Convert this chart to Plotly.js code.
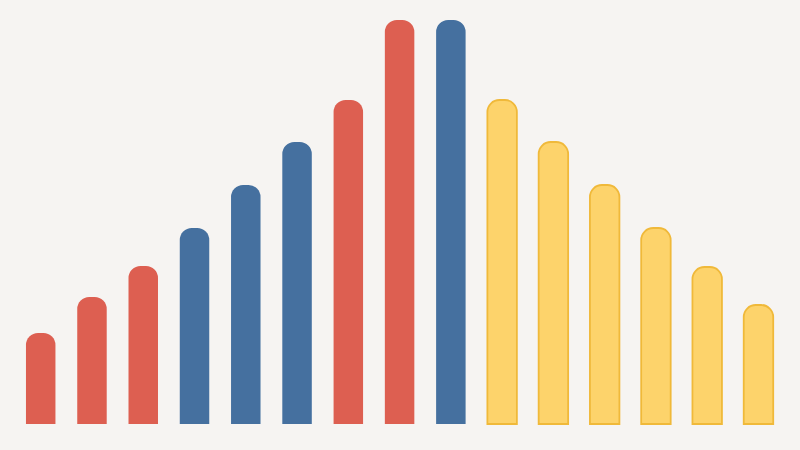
<!DOCTYPE html>
<html>
<head>
<meta charset="utf-8">
<script src="https://cdn.plot.ly/plotly-3.0.1.min.js"></script>
<style>
  html, body { margin: 0; padding: 0; background: #f6f4f2; }
  #chart { width: 800px; height: 450px; }
</style>
</head>
<body>
<div id="chart"></div>
<script>
// Data (arbitrary units, bar heights)
const categories = [1, 2, 3, 4, 5, 6, 7, 8, 9, 10, 11, 12, 13, 14, 15];
const values = [91, 127, 158, 196, 239, 282, 324, 404, 404, 324, 282, 239, 196, 157, 119];
const groups = ['red', 'red', 'red', 'blue', 'blue', 'blue', 'red', 'red', 'blue',
                'yellow', 'yellow', 'yellow', 'yellow', 'yellow', 'yellow'];

const fillColors = { red: '#dd5f51', blue: '#45709f', yellow: '#fdd36b' };
const lineColors = { red: '#dd5f51', blue: '#45709f', yellow: '#f0b93a' };
const lineWidths = { red: 0, blue: 0, yellow: 1.8 };

const trace = {
  type: 'bar',
  x: categories,
  y: values,
  width: 0.575,
  marker: {
    color: groups.map(g => fillColors[g]),
    line: {
      color: groups.map(g => lineColors[g]),
      width: groups.map(g => lineWidths[g])
    },
    cornerradius: 12
  },
  hoverinfo: 'skip'
};

const layout = {
  width: 800,
  height: 450,
  margin: { l: 0, r: 0, t: 0, b: 0 },
  paper_bgcolor: '#f6f4f2',
  plot_bgcolor: '#f6f4f2',
  showlegend: false,
  xaxis: {
    range: [1 - 0.794, 15.81],
    visible: false,
    fixedrange: true
  },
  yaxis: {
    range: [-26, 424],
    visible: false,
    fixedrange: true
  }
};

Plotly.newPlot('chart', [trace], layout, { displayModeBar: false, staticPlot: true });
</script>
</body>
</html>
